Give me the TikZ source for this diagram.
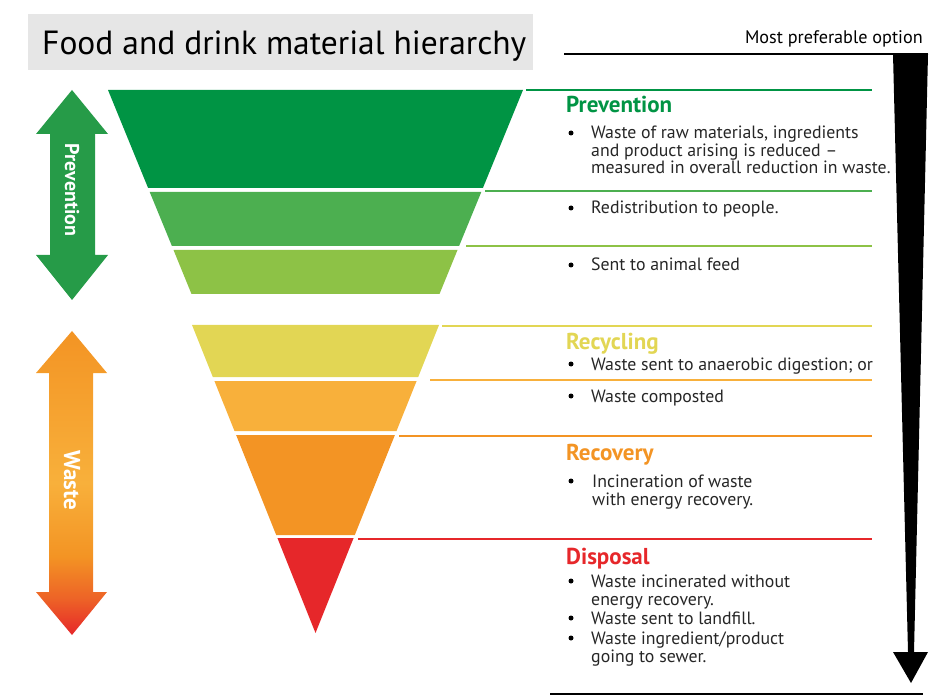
\documentclass[tikz,border=0pt]{standalone}
\usepackage{fontspec}
\setmainfont{PT Sans}
\definecolor{pvG}{RGB}{0,148,68}
\definecolor{mdG}{RGB}{76,175,80}
\definecolor{ltG}{RGB}{141,194,70}
\definecolor{ylw}{RGB}{226,214,84}
\definecolor{lor}{RGB}{248,176,59}
\definecolor{org}{RGB}{243,148,36}
\definecolor{rdd}{RGB}{230,39,42}
\definecolor{arrG}{RGB}{38,155,72}
\definecolor{ttl}{RGB}{230,230,230}
\pgfdeclareverticalshading{wasteshade}{100bp}{color(0bp)=(rdd); color(25bp)=(rdd); color(31bp)=(rdd!45!org); color(38bp)=(org); color(50bp)=(lor); color(75bp)=(org); color(100bp)=(org)}
\begin{document}
\begin{tikzpicture}[x=1pt,y=-1pt,
  body/.style={anchor=base west,inner sep=0pt,font=\fontsize{17.8}{19}\selectfont,text=black!85},
  head/.style={anchor=base west,inner sep=0pt,font=\fontsize{23}{25}\selectfont\bfseries},
  bul/.style={circle,fill=black,inner sep=0pt,minimum size=5pt},
  sep/.style={line width=1.4pt},
  side/.style={rotate=-90,text=white,font=\fontsize{20}{22}\selectfont\bfseries}
]
\useasboundingbox (0,0) rectangle (947,700);
% title
\fill[ttl] (28,14) rectangle (533,70);
\node[anchor=base west,inner sep=0pt,font=\fontsize{33.5}{35}\selectfont] (title) at (42,55) {Food and drink material hierarchy};
% top label and lines
\node[anchor=base east,inner sep=0pt,font=\fontsize{18.2}{20}\selectfont] (most) at (923,44) {Most preferable option};
\draw[line width=1.5pt] (564,54) -- (928,54);
\draw[line width=1.5pt] (550,694) -- (923,694);
% black tapering arrow
\fill[black] (893,54) -- (928,54) -- (914,652) -- (928,652) -- (911,683) -- (893,652) -- (908,652) -- cycle;
% upper trapezoids
\fill[pvG] (108,90) -- (523,90) -- (482.9,188) -- (148.1,188) -- cycle;
\fill[mdG] (149.7,192) -- (481.3,192) -- (459.1,246) -- (171.9,246) -- cycle;
\fill[ltG] (173.5,250) -- (457.5,250) -- (439.5,294) -- (191.5,294) -- cycle;
% lower cone
\fill[ylw] (192,325) -- (439,325) -- (418.2,377) -- (212.8,377) -- cycle;
\fill[lor] (214.4,381) -- (416.6,381) -- (396.5,431) -- (234.5,431) -- cycle;
\fill[org] (236.1,435) -- (394.9,435) -- (354.8,535) -- (276.2,535) -- cycle;
\fill[rdd] (277.4,538) -- (353.6,538) -- (315.5,633) -- cycle;
% separator lines
\draw[sep,pvG] (526,90) -- (872,90);
\draw[sep,mdG] (485,191) -- (872,191);
\draw[sep,ltG] (466,246) -- (872,246);
\draw[sep,ylw] (442,326) -- (872,326);
\draw[sep,lor] (430,380) -- (872,380);
\draw[sep,org] (399,436) -- (872,436);
\draw[sep,rdd] (358,539) -- (872,539);
% left arrows
\fill[arrG] (72,90) -- (108,134) -- (95,134) -- (95,255) -- (108,255) -- (72,300) -- (36,255) -- (50,255) -- (50,134) -- (36,134) -- cycle;
\node[side] (pl) at (72,190) {Prevention};
\shade[shading=wasteshade] (72,331) -- (107,373) -- (93,373) -- (93,592) -- (107,592) -- (72,635) -- (36,592) -- (49,592) -- (49,373) -- (36,373) -- cycle;
\node[side,font=\fontsize{23}{25}\selectfont\bfseries] (wl) at (72,480) {Waste};
% Prevention text
\node[head,text=pvG] (h1) at (566,113) {Prevention};
\node[bul] (b1) at (571,133) {};
\node[body] (t1a) at (591,139) {Waste of raw materials, ingredients};
\node[body] (t1b) at (591,156.5) {and product arising is reduced –};
\node[body] (t1c) at (591,174) {measured in overall reduction in waste.};
\node[bul] (b2) at (571,208) {};
\node[body] (t2) at (591,214) {Redistribution to people.};
\node[bul] (b3) at (571,265) {};
\node[body] (t3) at (591,271) {Sent to animal feed};
% Recycling
\node[head,text=ylw] (h2) at (566,349) {Recycling};
\node[bul] (b4) at (571,364) {};
\node[body] (t4) at (591,370) {Waste sent to anaerobic digestion; or};
\node[bul] (b5) at (571,396) {};
\node[body] (t5) at (591,402) {Waste composted};
% Recovery
\node[head,text=org] (h3) at (566,460) {Recovery};
\node[bul] (b6) at (571,481) {};
\node[body] (t6a) at (592,487) {Incineration of waste};
\node[body] (t6b) at (592,505) {with energy recovery.};
% Disposal
\node[head,text=rdd] (h4) at (566,564) {Disposal};
\node[bul] (b7) at (571,581) {};
\node[body] (t7a) at (591,587) {Waste incinerated without};
\node[body] (t7b) at (591,605) {energy recovery.};
\node[bul] (b8) at (571,618) {};
\node[body] (t8) at (591,624) {Waste sent to landfill.};
\node[bul] (b9) at (571,638) {};
\node[body] (t9a) at (591,644) {Waste ingredient/product};
\node[body] (t9b) at (591,662) {going to sewer.};
\end{tikzpicture}
\end{document}
